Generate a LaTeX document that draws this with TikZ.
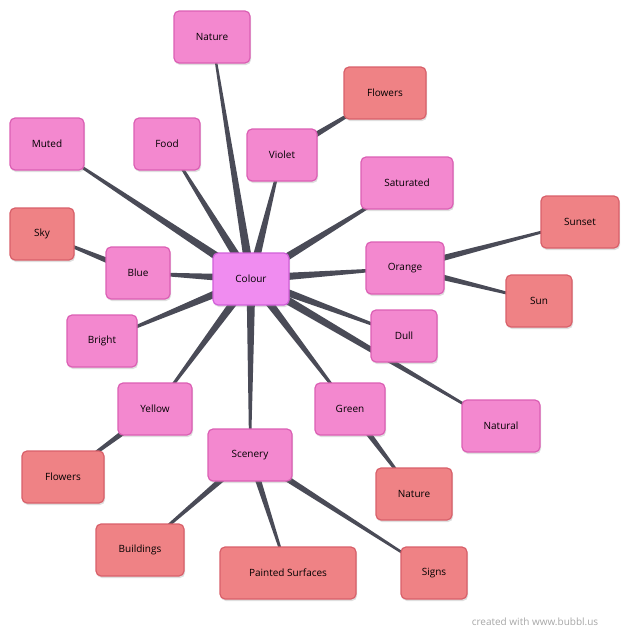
\documentclass[tikz,border=0pt]{standalone}
\usepackage{fontspec}
\setmainfont{Open Sans}
\usetikzlibrary{calc,backgrounds,shadows}
\definecolor{lone}{HTML}{F388CF}
\definecolor{lonedk}{HTML}{DB5FB4}
\definecolor{ltwo}{HTML}{EF8285}
\definecolor{ltwodk}{HTML}{D8606A}
\definecolor{root}{HTML}{F08CF0}
\definecolor{rootdk}{HTML}{D060D8}
\definecolor{conn}{HTML}{4A4B57}
\tikzset{
 box/.style={rounded corners=5pt, minimum height=52pt, inner sep=2pt, font=\fontsize{10}{12}\selectfont, line width=1.2pt, drop shadow={opacity=0.25, shadow xshift=1pt, shadow yshift=-2pt}},
 lvone/.style={box, fill=lone, draw=lonedk},
 lvtwo/.style={box, fill=ltwo, draw=ltwodk},
 rootbox/.style={box, fill=root, draw=rootdk},
}
\newcommand{\wedgeto}[3]{\fill[conn] ($(#1)!#3!90:(#2)$) -- ($(#1)!#3!-90:(#2)$) -- ($(#2)!0.8pt!90:(#1)$) -- ($(#2)!0.8pt!-90:(#1)$) -- cycle;}
\begin{document}
\begin{tikzpicture}[x=1pt,y=-1pt]
\useasboundingbox (0,0) rectangle (638,640);
\node[rootbox, minimum width=76pt] (colour) at (251,279) {Colour};
\node[lvone, minimum width=76pt] (nature) at (212,37) {Nature};
\node[lvtwo, minimum width=82pt] (flowers1) at (385,93) {Flowers};
\node[lvone, minimum width=74pt] (muted) at (47,144) {Muted};
\node[lvone, minimum width=66pt] (food) at (167,144) {Food};
\node[lvone, minimum width=70pt] (violet) at (282,155) {Violet};
\node[lvone, minimum width=92pt] (saturated) at (407,183) {Saturated};
\node[lvtwo, minimum width=78pt] (sunset) at (580,222) {Sunset};
\node[lvtwo, minimum width=64pt] (sky) at (42,234) {Sky};
\node[lvone, minimum width=64pt] (blue) at (138,273) {Blue};
\node[lvone, minimum width=78pt] (orange) at (405,268) {Orange};
\node[lvtwo, minimum width=66pt] (sun) at (539,301) {Sun};
\node[lvone, minimum width=66pt] (dull) at (404,336) {Dull};
\node[lvone, minimum width=70pt] (bright) at (102,341) {Bright};
\node[lvone, minimum width=74pt] (yellow) at (155,409) {Yellow};
\node[lvone, minimum width=70pt] (green) at (350,409) {Green};
\node[lvone, minimum width=78pt] (natural) at (501,426) {Natural};
\node[lvone, minimum width=84pt] (scenery) at (250,455) {Scenery};
\node[lvtwo, minimum width=82pt] (flowers2) at (63,477) {Flowers};
\node[lvtwo, minimum width=76pt] (nature2) at (414,494) {Nature};
\node[lvtwo, minimum width=88pt] (buildings) at (140,550) {Buildings};
\node[lvtwo, minimum width=136pt] (painted) at (288,573) {Painted Surfaces};
\node[lvtwo, minimum width=66pt] (signs) at (434,573) {Signs};
\node[text=gray!70, font=\fontsize{10}{12}\selectfont] (credit) at (535,622) {created with www.bubbl.us};
\begin{scope}[on background layer]
\foreach \c in {nature,muted,food,violet,saturated,blue,orange,dull,bright,yellow,green,natural,scenery}{\wedgeto{colour.center}{\c.center}{4.5pt}}
\wedgeto{violet.center}{flowers1.center}{3.5pt}
\wedgeto{blue.center}{sky.center}{3.5pt}
\wedgeto{orange.center}{sunset.center}{3.5pt}
\wedgeto{orange.center}{sun.center}{3.5pt}
\wedgeto{yellow.center}{flowers2.center}{3.5pt}
\wedgeto{green.center}{nature2.center}{3.5pt}
\wedgeto{scenery.center}{buildings.center}{3.5pt}
\wedgeto{scenery.center}{painted.center}{3.5pt}
\wedgeto{scenery.center}{signs.center}{3.5pt}
\end{scope}
\end{tikzpicture}
\end{document}
